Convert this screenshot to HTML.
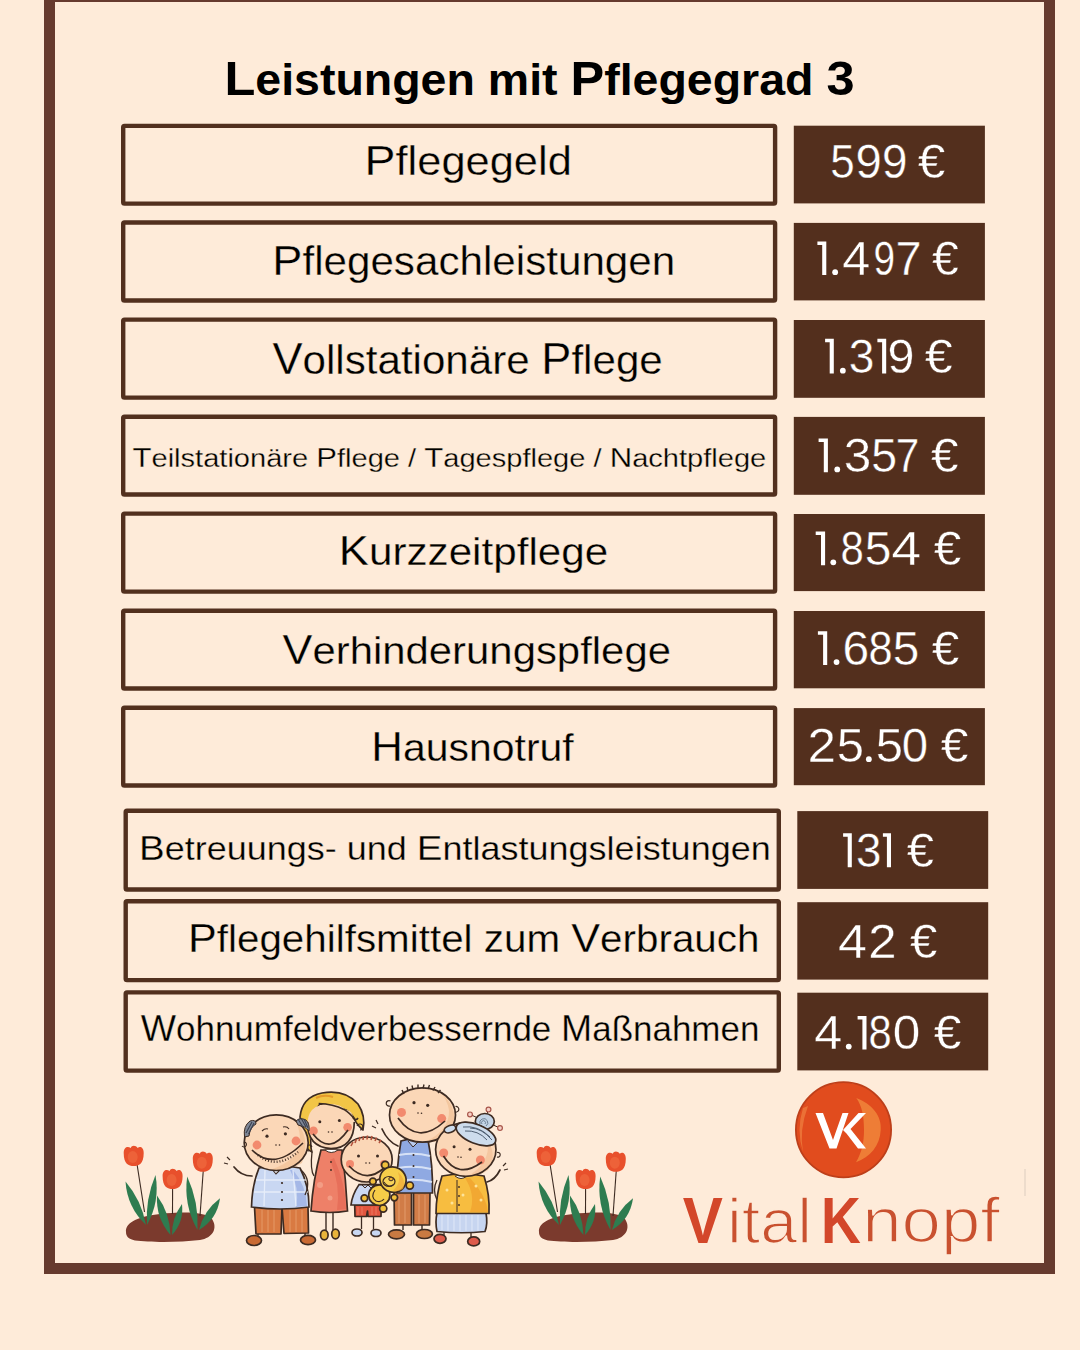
<!DOCTYPE html>
<html><head><meta charset="utf-8"><title>Leistungen mit Pflegegrad 3</title>
<style>
html,body{margin:0;padding:0;background:#feebd9;}
body{width:1080px;height:1350px;overflow:hidden;position:relative;font-family:"Liberation Sans",sans-serif;}
svg{position:absolute;left:0;top:0;}
text{font-family:"Liberation Sans",sans-serif;}
.lt{stroke:#feebd9;stroke-width:1.6px;}
.lb{stroke:#feebd9;stroke-width:0.3px;}
.pr{stroke:#532f1d;stroke-width:0.4px;}
</style></head><body>
<svg width="1080" height="1350" viewBox="0 0 1080 1350">
<rect x="0" y="0" width="1080" height="1350" fill="#feebd9"/>
<rect x="49.5" y="-3.5" width="1000" height="1272" fill="none" stroke="#663a2e" stroke-width="11"/>
<rect x="123.20" y="125.90" width="651.90" height="77.70" rx="1.3" fill="none" stroke="#52301e" stroke-width="4.4"/>
<rect x="123.20" y="222.50" width="651.90" height="78.00" rx="1.3" fill="none" stroke="#52301e" stroke-width="4.4"/>
<rect x="123.20" y="319.60" width="651.90" height="78.00" rx="1.3" fill="none" stroke="#52301e" stroke-width="4.4"/>
<rect x="123.20" y="416.70" width="651.90" height="77.80" rx="1.3" fill="none" stroke="#52301e" stroke-width="4.4"/>
<rect x="123.20" y="513.60" width="651.90" height="78.00" rx="1.3" fill="none" stroke="#52301e" stroke-width="4.4"/>
<rect x="123.20" y="610.80" width="651.90" height="77.70" rx="1.3" fill="none" stroke="#52301e" stroke-width="4.4"/>
<rect x="123.20" y="707.70" width="651.90" height="77.80" rx="1.3" fill="none" stroke="#52301e" stroke-width="4.4"/>
<rect x="125.70" y="810.80" width="653.10" height="78.70" rx="1.3" fill="none" stroke="#52301e" stroke-width="4.4"/>
<rect x="125.70" y="901.30" width="653.10" height="78.80" rx="1.3" fill="none" stroke="#52301e" stroke-width="4.4"/>
<rect x="125.70" y="992.40" width="653.10" height="78.20" rx="1.3" fill="none" stroke="#52301e" stroke-width="4.4"/>
<rect x="793.80" y="125.70" width="191.10" height="77.70" fill="#532f1d"/>
<rect x="793.80" y="222.90" width="191.10" height="77.50" fill="#532f1d"/>
<rect x="793.80" y="320.00" width="191.10" height="77.80" fill="#532f1d"/>
<rect x="793.80" y="416.90" width="191.10" height="77.90" fill="#532f1d"/>
<rect x="793.80" y="514.00" width="191.10" height="77.10" fill="#532f1d"/>
<rect x="793.80" y="611.00" width="191.10" height="77.30" fill="#532f1d"/>
<rect x="793.80" y="708.10" width="191.10" height="77.10" fill="#532f1d"/>
<rect x="797.30" y="811.10" width="190.90" height="77.80" fill="#532f1d"/>
<rect x="797.30" y="902.20" width="190.90" height="77.40" fill="#532f1d"/>
<rect x="797.30" y="992.70" width="190.90" height="77.70" fill="#532f1d"/>
<text transform="translate(224.41 95.00) scale(1.0638 1)" font-size="47.53" font-weight="bold" fill="#000">L<tspan font-size="43.73">eistungen mit </tspan>P<tspan font-size="43.73">flegegrad </tspan>3</text>
<text transform="translate(364.55 174.70) scale(1.0870 1)" font-size="42.73" fill="#000" class="lb">P<tspan font-size="39.95">flegegeld</tspan></text>
<text transform="translate(272.32 275.00) scale(1.0454 1)" font-size="43.17" fill="#000" class="lb">P<tspan font-size="40.36">flegesachleistungen</tspan></text>
<text transform="translate(272.50 374.20) scale(1.0335 1)" font-size="43.6" fill="#000" class="lb">V<tspan font-size="40.77">ollstationäre </tspan>P<tspan font-size="40.77">flege</tspan></text>
<text transform="translate(132.51 466.80) scale(1.0912 1)" font-size="28.49" fill="#000" class="lb">T<tspan font-size="26.64">eilstationäre </tspan>P<tspan font-size="26.64">flege / </tspan>T<tspan font-size="26.64">agespflege / </tspan>N<tspan font-size="26.64">achtpflege</tspan></text>
<text transform="translate(338.86 564.70) scale(1.0816 1)" font-size="41.72" fill="#000" class="lb">K<tspan font-size="39.01">urzzeitpflege</tspan></text>
<text transform="translate(282.50 664.40) scale(1.0666 1)" font-size="42.01" fill="#000" class="lb">V<tspan font-size="39.28">erhinderungspflege</tspan></text>
<text transform="translate(371.37 760.80) scale(1.0424 1)" font-size="42.01" fill="#000" class="lb">H<tspan font-size="39.28">ausnotruf</tspan></text>
<text transform="translate(139.08 859.60) scale(1.0724 1)" font-size="35.9" fill="#000" class="lb">B<tspan font-size="33.57">etreuungs- und </tspan>E<tspan font-size="33.57">ntlastungsleistungen</tspan></text>
<text transform="translate(187.94 951.80) scale(1.0538 1)" font-size="40.99" fill="#000" class="lb">P<tspan font-size="38.33">flegehilfsmittel zum </tspan>V<tspan font-size="38.33">erbrauch</tspan></text>
<text transform="translate(140.70 1041.00) scale(1.0133 1)" font-size="36.92" fill="#000" class="lb">W<tspan font-size="34.52">ohnumfeldverbessernde </tspan>M<tspan font-size="34.52">aßnahmen</tspan></text>
<text transform="translate(682.86 1242.70) scale(0.9366 1)" font-size="64.24" font-weight="bold" fill="#d3472a" class="lg">V</text>
<text transform="translate(727.05 1242.70) scale(1.0625 1)" font-size="62.5" fill="#c9512f" class="lt">ital</text>
<text transform="translate(821.07 1242.70) scale(0.8585 1)" font-size="64.24" font-weight="bold" fill="#d3472a" class="lg">K</text>
<text transform="translate(862.17 1242.40) scale(1.1331 1)" font-size="62.5" fill="#c9512f" class="lt">nopf</text>
<text transform="translate(830.37 177.90) scale(0.9174 1)" font-size="48" fill="#fff" class="pr">5</text>
<text transform="translate(855.53 177.90) scale(0.9864 1)" font-size="48" fill="#fff" class="pr">9</text>
<text transform="translate(882.09 177.90) scale(0.9545 1)" font-size="48" fill="#fff" class="pr">9</text>
<text transform="translate(917.87 177.90) scale(1.0320 1)" font-size="48" fill="#fff" class="pr">€</text>
<path d="M822.20,241.60H826.30V275.10H822.20Z M817.40,241.60H822.70V245.10H817.40Z" fill="#fff"/>
<circle cx="835.15" cy="272.20" r="2.9" fill="#fff"/>
<text transform="translate(842.25 274.70) scale(1.0500 1)" font-size="48" fill="#fff" class="pr">4</text>
<text transform="translate(873.58 274.70) scale(0.8091 1)" font-size="48" fill="#fff" class="pr">9</text>
<text transform="translate(895.45 274.70) scale(0.9773 1)" font-size="48" fill="#fff" class="pr">7</text>
<text transform="translate(932.00 274.70) scale(1.0040 1)" font-size="48" fill="#fff" class="pr">€</text>
<path d="M829.70,338.70H833.80V373.60H829.70Z M825.10,338.70H830.20V342.20H825.10Z" fill="#fff"/>
<circle cx="842.85" cy="370.70" r="2.9" fill="#fff"/>
<text transform="translate(848.68 373.20) scale(0.9609 1)" font-size="48" fill="#fff" class="pr">3</text>
<path d="M882.10,338.70H886.20V373.60H882.10Z M877.40,338.70H882.60V342.20H877.40Z" fill="#fff"/>
<text transform="translate(887.48 373.20) scale(1.0091 1)" font-size="48" fill="#fff" class="pr">9</text>
<text transform="translate(924.75 373.20) scale(1.0480 1)" font-size="48" fill="#fff" class="pr">€</text>
<path d="M823.80,438.60H827.90V472.30H823.80Z M818.60,438.60H824.30V442.10H818.60Z" fill="#fff"/>
<circle cx="837.25" cy="469.40" r="2.9" fill="#fff"/>
<text transform="translate(843.84 471.90) scale(1.0304 1)" font-size="48" fill="#fff" class="pr">3</text>
<text transform="translate(871.16 471.90) scale(0.9696 1)" font-size="48" fill="#fff" class="pr">5</text>
<text transform="translate(895.74 471.90) scale(0.8818 1)" font-size="48" fill="#fff" class="pr">7</text>
<text transform="translate(930.97 471.90) scale(1.0320 1)" font-size="48" fill="#fff" class="pr">€</text>
<path d="M821.00,531.50H825.10V565.20H821.00Z M815.70,531.50H821.50V535.00H815.70Z" fill="#fff"/>
<circle cx="833.30" cy="562.30" r="2.9" fill="#fff"/>
<text transform="translate(840.55 564.80) scale(0.8739 1)" font-size="48" fill="#fff" class="pr">8</text>
<text transform="translate(864.70 564.80) scale(1.0000 1)" font-size="48" fill="#fff" class="pr">5</text>
<text transform="translate(891.39 564.80) scale(1.1083 1)" font-size="48" fill="#fff" class="pr">4</text>
<text transform="translate(933.87 564.80) scale(1.0320 1)" font-size="48" fill="#fff" class="pr">€</text>
<path d="M823.10,631.30H827.20V665.00H823.10Z M817.90,631.30H823.60V634.80H817.90Z" fill="#fff"/>
<circle cx="836.55" cy="662.10" r="2.9" fill="#fff"/>
<text transform="translate(842.40 664.60) scale(1.0000 1)" font-size="48" fill="#fff" class="pr">6</text>
<text transform="translate(868.49 664.60) scale(0.9043 1)" font-size="48" fill="#fff" class="pr">8</text>
<text transform="translate(892.71 664.60) scale(0.9957 1)" font-size="48" fill="#fff" class="pr">5</text>
<text transform="translate(931.67 664.60) scale(1.0320 1)" font-size="48" fill="#fff" class="pr">€</text>
<text transform="translate(807.56 761.70) scale(1.0682 1)" font-size="48" fill="#fff" class="pr">2</text>
<text transform="translate(836.86 761.70) scale(1.0217 1)" font-size="48" fill="#fff" class="pr">5</text>
<circle cx="868.85" cy="759.20" r="2.9" fill="#fff"/>
<text transform="translate(875.76 761.70) scale(1.0217 1)" font-size="48" fill="#fff" class="pr">5</text>
<text transform="translate(901.73 761.70) scale(0.9870 1)" font-size="48" fill="#fff" class="pr">0</text>
<text transform="translate(940.76 761.70) scale(1.0360 1)" font-size="48" fill="#fff" class="pr">€</text>
<path d="M847.70,833.30H851.80V867.30H847.70Z M843.10,833.30H848.20V836.80H843.10Z" fill="#fff"/>
<text transform="translate(856.00 866.90) scale(0.9522 1)" font-size="48" fill="#fff" class="pr">3</text>
<path d="M886.90,833.30H891.00V867.30H886.90Z M882.90,833.30H887.40V836.80H882.90Z" fill="#fff"/>
<text transform="translate(906.78 866.90) scale(1.0200 1)" font-size="48" fill="#fff" class="pr">€</text>
<text transform="translate(838.02 957.70) scale(1.0833 1)" font-size="48" fill="#fff" class="pr">4</text>
<text transform="translate(868.37 957.70) scale(1.0636 1)" font-size="48" fill="#fff" class="pr">2</text>
<text transform="translate(909.88 957.70) scale(1.0240 1)" font-size="48" fill="#fff" class="pr">€</text>
<text transform="translate(814.35 1049.10) scale(1.0500 1)" font-size="48" fill="#fff" class="pr">4</text>
<circle cx="848.75" cy="1046.60" r="2.9" fill="#fff"/>
<path d="M862.40,1016.10H866.50V1049.50H862.40Z M857.60,1016.10H862.90V1019.60H857.60Z" fill="#fff"/>
<text transform="translate(868.46 1049.10) scale(0.8696 1)" font-size="48" fill="#fff" class="pr">8</text>
<text transform="translate(892.64 1049.10) scale(1.0304 1)" font-size="48" fill="#fff" class="pr">0</text>
<text transform="translate(933.66 1049.10) scale(1.0360 1)" font-size="48" fill="#fff" class="pr">€</text>
<g id="tul"><path d="M126,1232 C125,1222 140,1216 160,1214 C180,1212 205,1211 212,1219 C218,1228 213,1238 200,1240 C180,1242.5 150,1242.5 135,1240.5 C128,1239 126,1236 126,1232Z" fill="#7b3a2d"/><path d="M137,1164 L144.5,1212" stroke="#3d2b22" stroke-width="1.1" fill="none"/><path d="M172.6,1186 L172.5,1214" stroke="#3d2b22" stroke-width="1.1" fill="none"/><path d="M203.3,1170 L200,1216" stroke="#3d2b22" stroke-width="1.1" fill="none"/><path d="M146.0,1225.0 Q141.6,1200.5 125.5,1181.5 Q127.2,1207.3 146.0,1225.0Z" fill="#2e7c50"/><path d="M147.0,1225.0 Q160.1,1201.5 155.5,1175.0 Q145.3,1199.0 147.0,1225.0Z" fill="#2e7c50"/><path d="M170.5,1235.0 Q169.9,1213.1 157.0,1195.5 Q155.7,1218.0 170.5,1235.0Z" fill="#2e7c50"/><path d="M172.0,1235.0 Q184.1,1221.8 182.0,1204.0 Q171.8,1217.8 172.0,1235.0Z" fill="#2e7c50"/><path d="M197.5,1230.0 Q199.0,1202.0 187.2,1176.5 Q183.3,1205.0 197.5,1230.0Z" fill="#2e7c50"/><path d="M199.0,1230.0 Q217.2,1219.2 220.0,1198.3 Q203.8,1210.4 199.0,1230.0Z" fill="#2e7c50"/><path d="M123.7,1153.0 C123.7,1164.0 128.7,1166.0 133.7,1166.0 C138.7,1166.0 143.7,1164.0 143.7,1153.0 C143.7,1147.0 139.7,1146.0 137.7,1148.0 C135.7,1145.0 131.7,1145.0 130.7,1148.0 C127.7,1146.0 123.7,1147.0 123.7,1153.0Z" fill="#e8502c"/><ellipse cx="132.7" cy="1157.0" rx="5.0" ry="6.0" fill="#f06a3e" opacity="0.7"/><path d="M162.6,1175.9 C162.6,1186.9 167.6,1188.9 172.6,1188.9 C177.6,1188.9 182.6,1186.9 182.6,1175.9 C182.6,1169.9 178.6,1168.9 176.6,1170.9 C174.6,1167.9 170.6,1167.9 169.6,1170.9 C166.6,1168.9 162.6,1169.9 162.6,1175.9Z" fill="#e8502c"/><ellipse cx="171.6" cy="1179.9" rx="5.0" ry="6.0" fill="#f06a3e" opacity="0.7"/><path d="M192.8,1158.7 C192.8,1169.7 197.8,1171.7 202.8,1171.7 C207.8,1171.7 212.8,1169.7 212.8,1158.7 C212.8,1152.7 208.8,1151.7 206.8,1153.7 C204.8,1150.7 200.8,1150.7 199.8,1153.7 C196.8,1151.7 192.8,1152.7 192.8,1158.7Z" fill="#e8502c"/><ellipse cx="201.8" cy="1162.7" rx="5.0" ry="6.0" fill="#f06a3e" opacity="0.7"/></g><use href="#tul" x="413"/><path d="M300,1117 Q302,1097 322,1093 Q345,1089 358,1104 Q366,1116 363,1130 Q356,1124 354,1118 Q350,1112 346,1110 Q330,1104 320,1104 Q312,1112 311,1130 Q310,1148 312,1152 Q306,1150 305,1140 Q301,1128 300,1117Z" fill="#f2c546" stroke="#3d2b22" stroke-width="1.7" stroke-linejoin="round"/><path d="M316,1098 Q324,1094 333,1097" stroke="#e49a2a" stroke-width="2" fill="none"/><path d="M326,1211 L326,1231 M333,1211 L333,1230" stroke="#3d2b22" stroke-width="1.4"/><ellipse cx="324.3" cy="1235" rx="3.8" ry="4.8" fill="#e9b43a" stroke="#3d2b22" stroke-width="1.7"/><ellipse cx="335.5" cy="1234" rx="3.8" ry="4.8" fill="#e9b43a" stroke="#3d2b22" stroke-width="1.7"/><path d="M312,1152 Q310,1170 314,1176" fill="none" stroke="#3d2b22" stroke-width="1.3"/><path d="M321,1150 L342,1150 Q346,1180 347.5,1211 Q330,1214 311,1211 Q313,1180 321,1150Z" fill="#ee8068" stroke="#3d2b22" stroke-width="1.7"/><path d="M334,1158 Q346,1185 346,1209 L337,1210 Q341,1185 330,1160Z" fill="#e2604f" opacity="0.55"/><circle cx="320" cy="1185" r="3" fill="#f7b09a" opacity="0.6"/><circle cx="330" cy="1198" r="2.5" fill="#f7b09a" opacity="0.6"/><path d="M325,1150 Q331,1155 338,1150" fill="#fff" stroke="#3d2b22" stroke-width="1"/><circle cx="331" cy="1162" r="0.9" fill="#3d2b22"/><circle cx="331" cy="1170" r="0.9" fill="#3d2b22"/><path d="M331,1104 Q307,1103 307.2,1126 Q308,1148 331,1148.7 Q354,1148 354.3,1126 Q354,1110 346,1110 Q340,1104 331,1104Z" fill="#fbd7b7"/><path d="M307.5,1122 Q307,1147 331,1148.7 Q354,1148 354.3,1122" fill="none" stroke="#3d2b22" stroke-width="1.7"/><path d="M318.7,1103.5 Q333,1104 344,1109.4 Q351,1114 353.5,1118.3 Q356,1121 358,1118" fill="none" stroke="#3d2b22" stroke-width="1.7"/><path d="M357,1126 a3,3 0 1 1 3,4 M312,1147 a3,3 0 1 0 -3,4" fill="none" stroke="#3d2b22" stroke-width="1.1"/><circle cx="319.8" cy="1121.7" r="1.5" fill="#3d2b22"/><circle cx="339.4" cy="1120.6" r="1.5" fill="#3d2b22"/><circle cx="313.5" cy="1130.9" r="4.3" fill="#f28a6e"/><circle cx="347.6" cy="1127.2" r="4.3" fill="#f28a6e"/><circle cx="328.5" cy="1132" r="0.8" fill="#3d2b22"/><circle cx="332" cy="1132" r="0.8" fill="#3d2b22"/><path d="M313,1134 Q330,1156 348,1130" fill="none" stroke="#3d2b22" stroke-width="1.7"/><path d="M252,1176 Q241,1176 234,1167" fill="none" stroke="#3d2b22" stroke-width="1.7" stroke-linecap="round"/><path d="M230,1160 l-3,-3 M228,1164 l-4,-1" fill="none" stroke="#3d2b22" stroke-width="1.2"/><path d="M258,1233 L258,1238 M305,1233 L305,1237" stroke="#3d2b22" stroke-width="1.4"/><ellipse cx="254" cy="1240.5" rx="7.5" ry="5" fill="#c96a33" stroke="#3d2b22" stroke-width="1.7"/><ellipse cx="308" cy="1240" rx="7.5" ry="4.6" fill="#c96a33" stroke="#3d2b22" stroke-width="1.7"/><path d="M254.5,1207 L282,1207 L281,1234 L256,1234Z" fill="#d97a42" stroke="#3d2b22" stroke-width="1.7" stroke-linejoin="round"/><path d="M282,1207 L308,1207 L308.5,1233 L284,1233.5Z" fill="#d97a42" stroke="#3d2b22" stroke-width="1.7" stroke-linejoin="round"/><path d="M262,1210 L262,1232 M268,1210 L268,1232 M274,1210 L274,1232 M290,1210 L290,1232 M296,1210 L296,1232 M302,1210 L302,1232" stroke="#e8a070" stroke-width="1.2" opacity="0.7"/><path d="M259,1168 Q252,1185 251.5,1207 Q280,1211 309,1207 Q309,1185 300,1168 Q280,1164 259,1168Z" fill="#c9d7f2" stroke="#3d2b22" stroke-width="1.7"/><path d="M293,1170 Q306,1185 307,1206 L296,1207 Q300,1188 290,1170Z" fill="#9fb3e5" opacity="0.85"/><path d="M256,1180 L306,1180 M254,1192 L308,1192 M265,1170 L264,1206 M293,1170 L296,1206" stroke="#eef3fc" stroke-width="1.3" opacity="0.8"/><path d="M271,1168 L276,1174 L282,1168" fill="#eef2fb" stroke="#3d2b22" stroke-width="1.1"/><circle cx="282" cy="1183" r="1.1" fill="#3d2b22"/><circle cx="282" cy="1192" r="1.1" fill="#3d2b22"/><circle cx="282" cy="1200" r="1.1" fill="#3d2b22"/><path d="M301,1170 Q312,1180 305,1195" fill="none" stroke="#3d2b22" stroke-width="1.3"/><ellipse cx="276.2" cy="1142.7" rx="32" ry="27.8" fill="#fbd7b7"/><path d="M292,1117 Q312,1135 302,1163 Q290,1171 270,1170 Q300,1160 300,1140 Q300,1125 292,1117Z" fill="#f2c197" opacity="0.75"/><ellipse cx="276.2" cy="1142.7" rx="32" ry="27.8" fill="none" stroke="#3d2b22" stroke-width="1.7"/><path d="M244.5,1137 Q243,1126 250,1121 Q256,1119 256,1124 Q250,1127 249,1136Z" fill="#7f8796" stroke="#3d2b22" stroke-width="1"/><path d="M296,1121 Q300,1117 306,1120 Q310,1124 309,1131 Q305,1126 298,1125Z" fill="#7f8796" stroke="#3d2b22" stroke-width="1"/><path d="M246,1133 L252,1122 M248.5,1134 L254,1123 M298,1119 L303,1127 M301,1118 L306,1127 M304,1119 L308,1128" fill="none" stroke="#3a4150" stroke-width="1.1"/><path d="M262,1131 Q265,1128 268,1129 M283,1127 Q287,1126 289,1129" fill="none" stroke="#3d2b22" stroke-width="1.1"/><circle cx="267" cy="1136.2" r="1.6" fill="#3d2b22"/><circle cx="285.4" cy="1133.8" r="1.6" fill="#3d2b22"/><circle cx="257" cy="1145" r="4.4" fill="#f28a6e"/><circle cx="296" cy="1141" r="4.4" fill="#f28a6e"/><circle cx="276" cy="1145" r="0.8" fill="#3d2b22"/><circle cx="279.5" cy="1145" r="0.8" fill="#3d2b22"/><path d="M252,1150 Q274,1172 303,1143" fill="none" stroke="#3d2b22" stroke-width="1.7"/><path d="M258,1155 Q276,1170 298,1152" fill="none" stroke="#3d2b22" stroke-width="2.4" stroke-dasharray="0.9 2"/><path d="M242,1146 a2.5,2.5 0 1 0 2.5,-4" fill="none" stroke="#3d2b22" stroke-width="1.1"/><path d="M398,1146 Q388,1142 382,1129" fill="none" stroke="#3d2b22" stroke-width="1.7" stroke-linecap="round"/><path d="M378,1124 l-2,-4 M376,1128 l-4,-2" stroke="#3d2b22" stroke-width="1.2"/><path d="M403,1224 L403,1230 M422,1224 L422,1230" stroke="#3d2b22" stroke-width="1.4"/><ellipse cx="396.5" cy="1234.3" rx="8" ry="4.5" fill="#c97a42" stroke="#3d2b22" stroke-width="1.7"/><ellipse cx="424.4" cy="1234" rx="8" ry="4.5" fill="#c97a42" stroke="#3d2b22" stroke-width="1.7"/><path d="M394,1192 L411.5,1192 L411.5,1225 L394.5,1225Z" fill="#d17c47" stroke="#3d2b22" stroke-width="1.7" stroke-linejoin="round"/><path d="M413.5,1192 L430,1192 L429.5,1225 L413.5,1225Z" fill="#d17c47" stroke="#3d2b22" stroke-width="1.7" stroke-linejoin="round"/><path d="M399,1195 L399,1223 M405,1195 L405,1223 M419,1195 L419,1223 M425,1195 L425,1223" stroke="#e6a273" stroke-width="1.2" opacity="0.7"/><path d="M401,1141 Q396,1170 397,1193 L432.5,1193 Q433,1165 428,1140 Q414,1137 401,1141Z" fill="#8fa9e2" stroke="#3d2b22" stroke-width="1.7"/><path d="M399,1155 Q415,1152 430,1156 M398,1168 Q415,1165 431,1169 M398,1181 Q415,1178 432,1182" stroke="#e3ebf9" stroke-width="2" fill="none" opacity="0.85"/><path d="M408,1141 L413,1147 L419,1141" fill="#b9cbef" stroke="#3d2b22" stroke-width="1"/><circle cx="413.5" cy="1155" r="1" fill="#3d2b22"/><circle cx="413.5" cy="1166" r="1" fill="#3d2b22"/><circle cx="413.5" cy="1177" r="1" fill="#3d2b22"/><ellipse cx="422.5" cy="1115" rx="33" ry="27.2" fill="#fbd7b7"/><path d="M440,1092 Q462,1110 450,1137 Q440,1143 425,1142 Q450,1130 449,1110 Q447,1099 440,1092Z" fill="#f2c197" opacity="0.75"/><ellipse cx="422.5" cy="1115" rx="33" ry="27.2" fill="none" stroke="#3d2b22" stroke-width="1.7"/><path d="M404,1094 l-2,-4 M408,1091 l-1,-4 M413,1089.5 l-1,-4 M418,1088.5 l0,-4 M423,1088.5 l1,-4 M428,1089 l1.5,-4 M433,1090.5 l2,-3.5 M438,1093 l2.5,-3" stroke="#3d2b22" stroke-width="1.4"/><circle cx="414" cy="1102.7" r="1.6" fill="#3d2b22"/><circle cx="427.7" cy="1105.3" r="1.6" fill="#3d2b22"/><circle cx="401.5" cy="1112.4" r="4.5" fill="#f28a6e"/><circle cx="441.7" cy="1118.6" r="4.5" fill="#f28a6e"/><circle cx="418" cy="1113" r="0.8" fill="#3d2b22"/><circle cx="421.5" cy="1113.3" r="0.8" fill="#3d2b22"/><path d="M398,1118 Q418,1146 445,1121" fill="none" stroke="#3d2b22" stroke-width="1.7"/><path d="M390,1106 a2.8,2.8 0 1 1 0.5,-5 M455.5,1112 a2.8,2.8 0 1 0 0,-5.5" fill="none" stroke="#3d2b22" stroke-width="1.2"/><path d="M361.5,1216 L361.5,1229 M373.5,1216 L373.5,1229" stroke="#3d2b22" stroke-width="1.3"/><ellipse cx="357" cy="1232.5" rx="5" ry="3.5" fill="#c8d7f2" stroke="#3d2b22" stroke-width="1.7"/><ellipse cx="376" cy="1233" rx="5" ry="3.5" fill="#c8d7f2" stroke="#3d2b22" stroke-width="1.7"/><path d="M354.7,1205 L381.3,1205 L381,1216.5 L368,1216.5 L367.5,1211 L366.5,1216.5 L355,1216.5Z" fill="#e2553e" stroke="#3d2b22" stroke-width="1.7" stroke-linejoin="round"/><path d="M358,1207 L358,1215 M362,1207 L362,1215 M372,1207 L372,1215 M376,1207 L376,1215" stroke="#f08a70" stroke-width="1" opacity="0.7"/><path d="M359,1184.6 Q352,1195 351,1205 L382,1205 L380,1184.6Z" fill="#cbd8f3" stroke="#3d2b22" stroke-width="1.7"/><path d="M362,1185 L365,1188 L368,1185 L371,1188 L374,1185" fill="none" stroke="#3d2b22" stroke-width="1"/><ellipse cx="366.7" cy="1159.5" rx="25.5" ry="22.5" fill="#fbd7b7" stroke="#3d2b22" stroke-width="1.7"/><path d="M351,1146 l2,-4 M355,1143 l1.5,-4 M359,1141 l1,-4 M363,1140 l0.5,-4 M367,1139.5 l0.5,-4 M371,1140 l1,-4 M375,1141 l1.5,-3.5 M379,1143 l2,-3" stroke="#b4533d" stroke-width="1.6"/><circle cx="358.5" cy="1156" r="1.5" fill="#3d2b22"/><circle cx="377.5" cy="1156" r="1.5" fill="#3d2b22"/><circle cx="350" cy="1164" r="4" fill="#f28a6e"/><circle cx="384" cy="1164" r="4" fill="#f28a6e"/><circle cx="366" cy="1163" r="0.8" fill="#3d2b22"/><circle cx="369.5" cy="1163" r="0.8" fill="#3d2b22"/><path d="M349,1166 Q366,1184 384,1168" fill="none" stroke="#3d2b22" stroke-width="1.7"/><circle cx="364.4" cy="1198.2" r="3.3" fill="#f2bf3c" stroke="#3d2b22" stroke-width="1.7"/><circle cx="372.9" cy="1181.4" r="3.3" fill="#f2bf3c" stroke="#3d2b22" stroke-width="1.7"/><circle cx="383.2" cy="1208.6" r="3.6" fill="#f2bf3c" stroke="#3d2b22" stroke-width="1.7"/><circle cx="394.3" cy="1197.6" r="3.3" fill="#f2bf3c" stroke="#3d2b22" stroke-width="1.7"/><ellipse cx="379.3" cy="1195.2" rx="10.6" ry="10.3" fill="#f6cc48" stroke="#3d2b22" stroke-width="1.7"/><path d="M375,1190 Q370,1197 376,1201 Q381,1203 384,1199" fill="none" stroke="#3d2b22" stroke-width="1.2"/><circle cx="385.2" cy="1165" r="3.6" fill="#f2bf3c" stroke="#3d2b22" stroke-width="1.7"/><circle cx="409.8" cy="1185.6" r="3.6" fill="#f2bf3c" stroke="#3d2b22" stroke-width="1.7"/><ellipse cx="393" cy="1179.6" rx="13.3" ry="12.6" transform="rotate(30 393 1179.6)" fill="#f6cd4a" stroke="#3d2b22" stroke-width="1.7"/><path d="M398,1172 Q407,1180 403,1189 Q398,1192 393,1191 Q402,1182 398,1172Z" fill="#f0a93a" opacity="0.7"/><ellipse cx="389" cy="1181.5" rx="6" ry="5" fill="#f8d35a" stroke="#3d2b22" stroke-width="1.2"/><ellipse cx="391" cy="1179" rx="2.2" ry="1.8" fill="#f0b23c" stroke="#3d2b22" stroke-width="1"/><path d="M384,1182 Q388,1188 393,1185" fill="none" stroke="#3d2b22" stroke-width="1.1"/><path d="M487,1182 Q495,1180 500,1170" fill="none" stroke="#3d2b22" stroke-width="1.7" stroke-linecap="round"/><path d="M503,1166 l3,-3 M504,1170 l4,-1" stroke="#3d2b22" stroke-width="1.2"/><path d="M437,1180 Q432,1190 437,1200" fill="none" stroke="#3d2b22" stroke-width="1.3"/><path d="M444,1230 L444,1235 M471,1230 L471,1237" stroke="#3d2b22" stroke-width="1.3"/><ellipse cx="440" cy="1238.8" rx="6" ry="4.5" fill="#de5b4b" stroke="#3d2b22" stroke-width="1.7"/><ellipse cx="473.7" cy="1241.4" rx="6" ry="4.5" fill="#de5b4b" stroke="#3d2b22" stroke-width="1.7"/><path d="M437,1213 L486,1213 Q488,1224 485,1231.5 Q462,1234 437,1231.5 Q435,1222 437,1213Z" fill="#c7d5f0" stroke="#3d2b22" stroke-width="1.7"/><path d="M442,1215 L442,1230 M448,1215 L448,1231 M454,1215 L454,1231 M460,1215 L460,1231 M466,1215 L466,1231 M472,1215 L472,1231 M478,1215 L478,1231" stroke="#e8eefa" stroke-width="1" opacity="0.8"/><path d="M442,1176 Q436,1195 436,1213.5 L489,1213.5 Q490,1195 484,1176 Q463,1172 442,1176Z" fill="#f7bd40" stroke="#3d2b22" stroke-width="1.7"/><path d="M470,1178 Q486,1195 488,1212 L470,1212 Q476,1195 465,1178Z" fill="#f0a02c" opacity="0.7"/><circle cx="447" cy="1190" r="1.5" fill="#fde39a"/><circle cx="452" cy="1203" r="1.5" fill="#fde39a"/><circle cx="476" cy="1186" r="1.5" fill="#fde39a"/><circle cx="481" cy="1200" r="1.5" fill="#fde39a"/><circle cx="463" cy="1195" r="1.5" fill="#fde39a"/><path d="M455,1176 Q461,1181 467,1176" fill="#fff" stroke="#3d2b22" stroke-width="1"/><path d="M457,1180 L457,1212" stroke="#3d2b22" stroke-width="1"/><circle cx="459" cy="1187" r="0.9" fill="#3d2b22"/><circle cx="459" cy="1196" r="0.9" fill="#3d2b22"/><circle cx="459" cy="1205" r="0.9" fill="#3d2b22"/><path d="M470,1114.4 L500,1128.1 M488.5,1109.6 L483,1126" stroke="#3d2b22" stroke-width="1"/><ellipse cx="484.8" cy="1121.5" rx="9.5" ry="8" fill="#c3d4e6" stroke="#3d2b22" stroke-width="1.7"/><path d="M480,1124 a4,4 0 1 1 6,2 M482,1124 a2,2 0 1 1 3,0" fill="none" stroke="#6f8296" stroke-width="1"/><circle cx="470" cy="1114.4" r="2.4" fill="#f6d0c6" stroke="#a8554a" stroke-width="1.2"/><circle cx="488.5" cy="1109.6" r="2.4" fill="#f6d0c6" stroke="#a8554a" stroke-width="1.2"/><circle cx="500" cy="1128.1" r="2.4" fill="#f6d0c6" stroke="#a8554a" stroke-width="1.2"/><ellipse cx="465.8" cy="1149.5" rx="30.2" ry="26.8" fill="#fbd7b7"/><path d="M487,1140 Q498,1155 488,1170 Q478,1177 468,1176 Q492,1162 487,1140Z" fill="#f2c197" opacity="0.7"/><ellipse cx="465.8" cy="1149.5" rx="30.2" ry="26.8" fill="none" stroke="#3d2b22" stroke-width="1.7"/><ellipse cx="476" cy="1134" rx="21" ry="9.5" transform="rotate(22 476 1134)" fill="#cddcec" stroke="#3d2b22" stroke-width="1.7"/><ellipse cx="450" cy="1129" rx="6" ry="3.5" transform="rotate(-20 450 1129)" fill="#cddcec" stroke="#3d2b22" stroke-width="1.7"/><path d="M463,1127 Q478,1125 490,1137 M465,1131 Q478,1130 487,1140 M470,1128 Q482,1128 492,1140" fill="none" stroke="#4f5f72" stroke-width="1"/><circle cx="454.1" cy="1146.7" r="1.5" fill="#3d2b22"/><circle cx="470" cy="1149.3" r="1.5" fill="#3d2b22"/><circle cx="443.7" cy="1153" r="4.5" fill="#f28a6e"/><circle cx="480.4" cy="1160" r="4.5" fill="#f28a6e"/><circle cx="458" cy="1157" r="0.8" fill="#3d2b22"/><circle cx="461" cy="1157.3" r="0.8" fill="#3d2b22"/><path d="M443.5,1156 Q458,1180 482,1162" fill="none" stroke="#3d2b22" stroke-width="1.7"/><path d="M497,1157 a2.4,2.4 0 1 0 0,-4.5" fill="none" stroke="#3d2b22" stroke-width="1.1"/><circle cx="843.5" cy="1129.8" r="47.6" fill="#e14c1e" stroke="#bd3f1a" stroke-width="1.8"/><path d="M856.3,1098 C872,1104 882,1116 880.7,1130 C880,1146 870,1157 856,1162.3 C862,1152 864,1142 864,1130 C864,1116 862,1106 856.3,1098Z" fill="#ee7d36"/><path d="M803,1108 Q796,1130 803,1152 Q799,1130 808,1106Z" fill="#ee7a3c" opacity="0.8"/><path d="M815.5,1112.9 L823,1112.9 L833,1140 L842.5,1112.9 L848.5,1112.9 L836.5,1148.4 L829.5,1148.4Z" fill="#fff"/><path d="M843,1130 L858.5,1112.9 L866,1112.9 L850.5,1129 L866,1148.4 L858,1148.4 L846.5,1133.5Z" fill="#fff"/><rect x="1024.3" y="1169" width="1.4" height="27" fill="#e6d6c6"/>
</svg>
</body></html>
